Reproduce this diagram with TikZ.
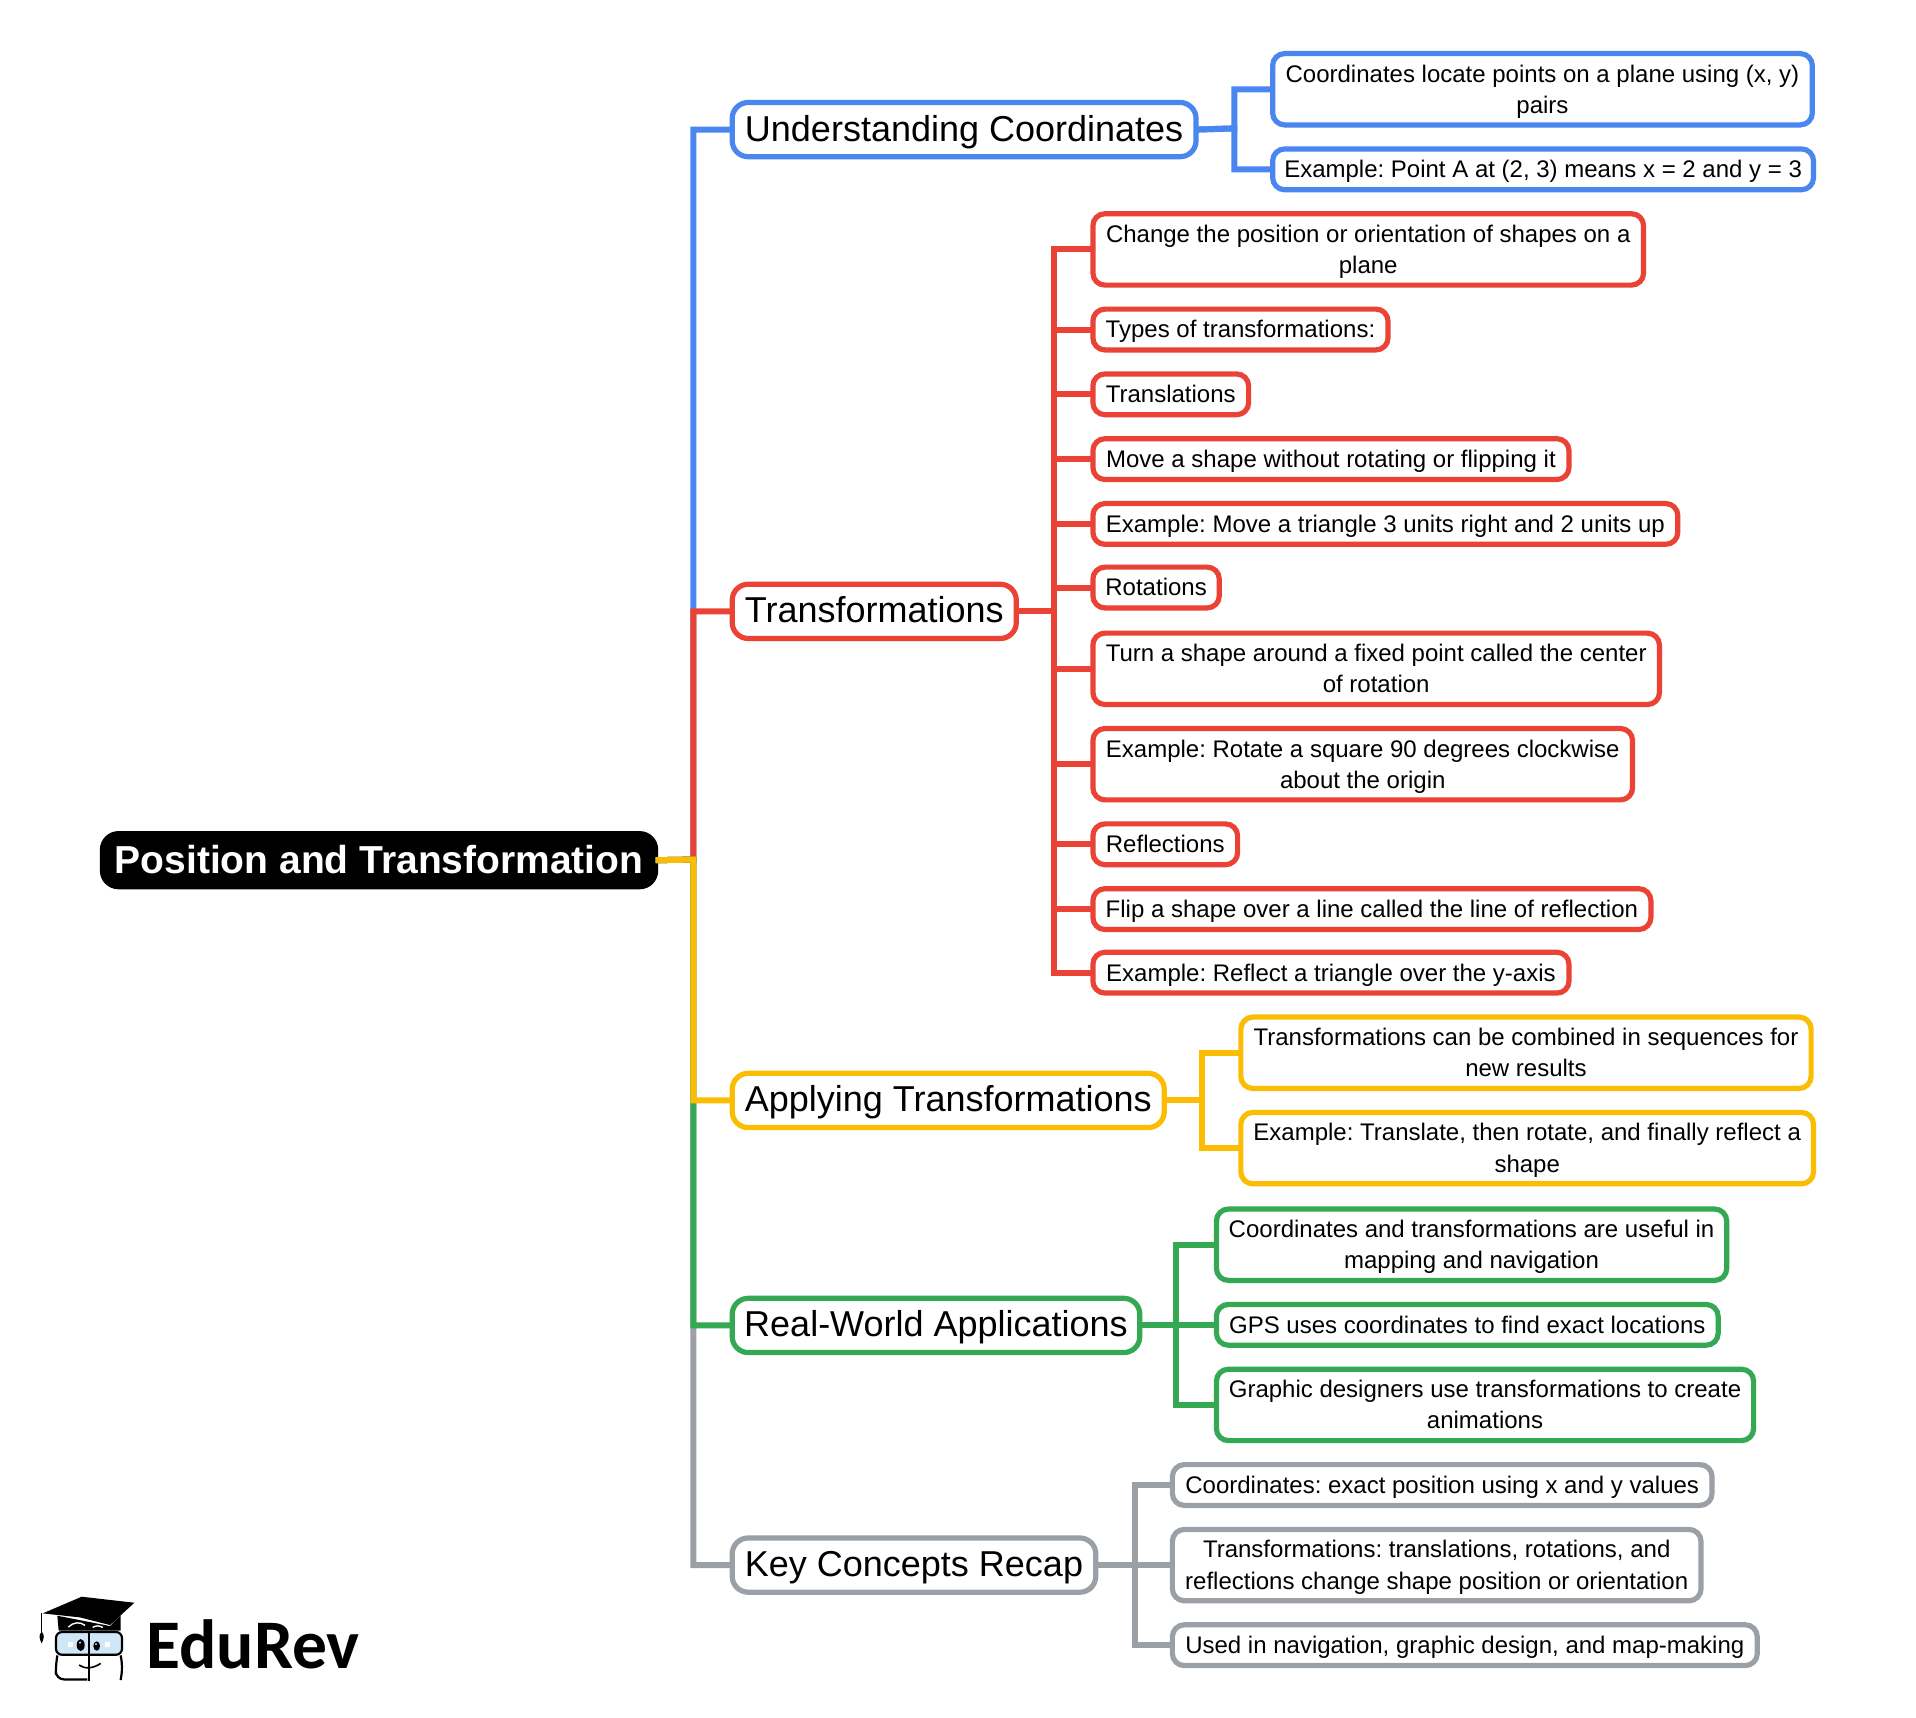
\documentclass[tikz,border=0pt]{standalone}
\usepackage{fontspec}
\setmainfont{Liberation Sans}
\newfontfamily\logofont{Carlito}
\definecolor{cblue}{HTML}{4A86F0}
\definecolor{cred}{HTML}{EA4335}
\definecolor{cyel}{HTML}{FBBC04}
\definecolor{cgrn}{HTML}{34A853}
\definecolor{cgry}{HTML}{9AA0A6}
\definecolor{lens}{HTML}{CFE8F8}
\newcommand{\boxnode}[7]{%
  \pgfmathsetmacro{\bw}{(#4-#2)*0.6113-1}%
  \pgfmathsetmacro{\bh}{(#5-#3)*0.6113-1}%
  \node[#1,minimum width=\bw pt,minimum height=\bh pt] (#6) at ({(#2+#4)/2},{(#3+#5)/2}) {#7};}
\tikzset{
  basebox/.style={rectangle,align=center,inner sep=0pt,outer sep=0pt,fill=white,text=black,line width=2.6pt},
  rootbox/.style={basebox,fill=black,draw=black,rounded corners=8pt,text=white,text height=14.6pt,text depth=1.6pt,font=\frenchspacing\fontsize{19.5}{24}\selectfont\bfseries},
  branchbox/.style={basebox,rounded corners=8pt,text height=13.9pt,text depth=2.5pt,font=\frenchspacing\fontsize{18}{24}\selectfont},
  leafbox/.style={basebox,rounded corners=6pt,text height=9.8pt,text depth=1.4pt,font=\frenchspacing\fontsize{12}{15.6}\selectfont},
  leaftwo/.style={leafbox,text height=25.4pt},
  wire/.style={line width=3pt},
}
\begin{document}
\begin{tikzpicture}[x=0.6113pt,y=-0.6113pt]
\useasboundingbox (0,0) rectangle (1567,1405);
\fill[white] (0,0) rectangle (1567,1405);
% root
\boxnode{rootbox}{83}{681}{537}{726}{root}{Position and Transformation}
% branches
\boxnode{branchbox,draw=cblue}{598}{83}{979}{129}{b1}{Understanding Coordinates}
\boxnode{branchbox,draw=cred}{598}{477}{832}{523}{b2}{Transformations}
\boxnode{branchbox,draw=cyel}{598}{877}{953}{923}{b3}{Applying Transformations}
\boxnode{branchbox,draw=cgrn}{598}{1061}{933}{1107}{b4}{Real-World Applications}
\boxnode{branchbox,draw=cgry}{598}{1257}{897}{1303}{b5}{Key Concepts Recap}
% leaves
\boxnode{leaftwo,draw=cblue}{1040}{43}{1483}{103}{a1}{Coordinates locate points on a plane using (x, y)\\pairs}
\boxnode{leafbox,draw=cblue}{1040}{121}{1484}{156}{a2}{Example: Point A at (2, 3) means x = 2 and y = 3}
\boxnode{leaftwo,draw=cred}{893}{174}{1345}{234}{c1}{Change the position or orientation of shapes on a\\plane}
\boxnode{leafbox,draw=cred}{893}{252}{1136}{287}{c2}{Types of transformations:}
\boxnode{leafbox,draw=cred}{893}{305}{1022}{340}{c3}{Translations}
\boxnode{leafbox,draw=cred}{893}{358}{1284}{393}{c4}{Move a shape without rotating or flipping it}
\boxnode{leafbox,draw=cred}{893}{411}{1373}{446}{c5}{Example: Move a triangle 3 units right and 2 units up}
\boxnode{leafbox,draw=cred}{893}{463}{998}{498}{c6}{Rotations}
\boxnode{leaftwo,draw=cred}{893}{517}{1358}{577}{c7}{Turn a shape around a fixed point called the center\\of rotation}
\boxnode{leaftwo,draw=cred}{893}{595}{1336}{655}{c8}{Example: Rotate a square 90 degrees clockwise\\about the origin}
\boxnode{leafbox,draw=cred}{893}{673}{1013}{708}{c9}{Reflections}
\boxnode{leafbox,draw=cred}{893}{726}{1351}{761}{c10}{Flip a shape over a line called the line of reflection}
\boxnode{leafbox,draw=cred}{893}{778}{1284}{813}{c11}{Example: Reflect a triangle over the y-axis}
\boxnode{leaftwo,draw=cyel}{1014}{831}{1482}{891}{d1}{Transformations can be combined in sequences for\\new results}
\boxnode{leaftwo,draw=cyel}{1014}{909}{1484}{969}{d2}{Example: Translate, then rotate, and finally reflect a\\shape}
\boxnode{leaftwo,draw=cgrn}{994}{988}{1413}{1048}{e1}{Coordinates and transformations are useful in\\mapping and navigation}
\boxnode{leafbox,draw=cgrn}{994}{1066}{1406}{1101}{e2}{GPS uses coordinates to find exact locations}
\boxnode{leaftwo,draw=cgrn}{994}{1119}{1435}{1179}{e3}{Graphic designers use transformations to create\\animations}
\boxnode{leafbox,draw=cgry}{958}{1197}{1401}{1232}{f1}{Coordinates: exact position using x and y values}
\boxnode{leaftwo,draw=cgry}{958}{1250}{1392}{1310}{f2}{Transformations: translations, rotations, and\\reflections change shape position or orientation}
\boxnode{leafbox,draw=cgry}{958}{1328}{1438}{1363}{f3}{Used in navigation, graphic design, and map-making}
% bus points
\coordinate (trunk) at (567,703);
\coordinate (bus1) at (1009.5,105);
\coordinate (bus2) at (862,500);
\coordinate (bus3) at (983,900);
\coordinate (bus4) at (962,1084);
\coordinate (bus5) at (928,1280);
% connectors
\draw[wire,cblue] (root.east) -- (trunk) |- (b1.west);
\draw[wire,cred] (root.east) -- (trunk) |- (b2.west);
\draw[wire,cgry] (root.east) -- (trunk) |- (b5.west);
\draw[wire,cgrn] (root.east) -- (trunk) |- (b4.west);
\draw[wire,cyel] (root.east) -- (trunk) |- (b3.west);
\foreach \n in {a1,a2} \draw[wire,cblue] (b1.east) -- (bus1) |- (\n.west);
\foreach \n in {c1,c2,c3,c4,c5,c6,c7,c8,c9,c10,c11} \draw[wire,cred] (b2.east) -- (bus2) |- (\n.west);
\foreach \n in {d1,d2} \draw[wire,cyel] (b3.east) -- (bus3) |- (\n.west);
\foreach \n in {e1,e2,e3} \draw[wire,cgrn] (b4.east) -- (bus4) |- (\n.west);
\foreach \n in {f1,f2,f3} \draw[wire,cgry] (b5.east) -- (bus5) |- (\n.west);
% logo (units: zoomed crop pixels)
\begin{scope}[shift={(0,1226.8)},x=0.16667pt,y=-0.16667pt]
\fill[black] (128,340) -- (245,290) -- (403,308) -- (330,375) -- (240,352) -- cycle;
\fill[black] (172,347) -- (176,392) -- (362,392) -- (362,345) -- (330,378) -- cycle;
\draw[white,line width=0.7pt] (205,381) .. controls (220,366) and (240,364) .. (255,376);
\draw[white,line width=0.7pt] (278,382) .. controls (288,376) and (298,376) .. (308,382);
\draw[black,line width=0.7pt] (124,340) -- (124,400);
\fill[black] (125,430) .. controls (118,415) and (115,405) .. (125,395) .. controls (135,405) and (132,415) .. (125,430) -- cycle;
\draw[black,fill=lens,line width=1.1pt,rounded corners=3pt] (168,396) rectangle (366,464);
\draw[black,line width=1.1pt] (268,392) -- (268,542);
\fill[black] (242,435) ellipse [x radius=12,y radius=18];
\fill[black] (290,438) ellipse [x radius=10,y radius=14];
\fill[white] (240,428) circle [radius=3];
\fill[white] (288,432) circle [radius=3];
\fill[white] (205,426) rectangle (219,440);
\fill[white] (316,426) rectangle (331,440);
\draw[black,line width=1.1pt,rounded corners=4pt] (172,466) -- (167,500) -- (168,538) -- (262,538);
\draw[black,line width=1.1pt,rounded corners=4pt] (362,466) -- (368,500) -- (362,540);
\draw[black,line width=0.8pt] (237,495) .. controls (255,508) and (280,505) .. (302,490);
\node[anchor=base west,inner sep=0pt,font=\logofont\bfseries\fontsize{34.8}{38}\selectfont] (logo) at (438,505) {EduRev};
\end{scope}
\end{tikzpicture}
\end{document}
